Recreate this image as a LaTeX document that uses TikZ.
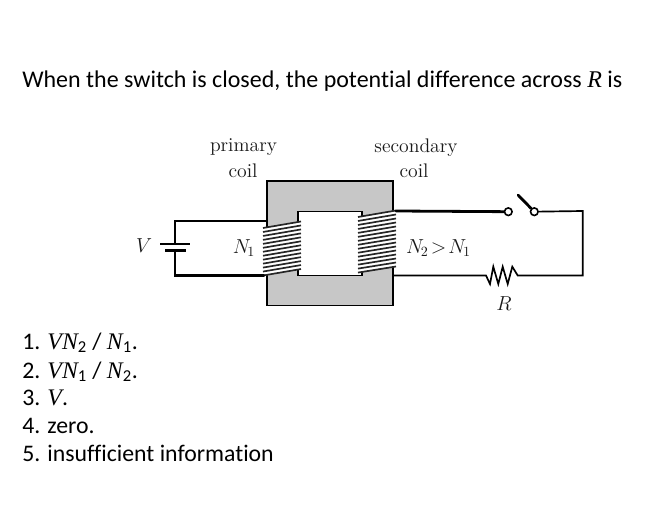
\documentclass[tikz,border=0pt]{standalone}
\usepackage{fontspec}
\setsansfont[Ligatures=CommonOff]{Carlito}
\newfontfamily\varfont{Liberation Serif}
\newcommand{\varit}[1]{{\varfont\itshape #1}}
\usetikzlibrary{positioning}

\begin{document}
\begin{tikzpicture} [x=0.025cm,y=-0.025cm,{wire/.style={color=black,line width=0.7mm,line cap=round,line join=miter}},{thinwire/.style={color=black,line width=0.42mm,line join=miter}},{terminal/.style={circle,draw=black,fill=white,line width=0.4mm,inner sep=0pt,minimum size=1.9mm}},{label/.style={font=\fontsize{14}{14}\selectfont,color=black!90,inner sep=0pt}},{line/.style={font=\sffamily\fontsize{16.9}{16.9}\selectfont,anchor=base west,inner sep=0pt}},{windings/.style={color=black!85,line width=0.42mm}}]
		\useasboundingbox (0,0) rectangle (653,512);
		%%question
		\node at (22,88) [line,font=\sffamily\fontsize{17.05}{17.05}\selectfont] (question) {When the switch is closed, the potential difference across \varit{R} is};
		%%core
		\draw [thinwire,fill=black!22] (267,181) rectangle (393,305.5);
		\draw [thinwire,fill=white] (298,211.5) rectangle (362,275.5);
		%%primary coil
		\fill [white] (263,228) -- (301,221.5) -- (301,269) -- (263,275.5) -- cycle;
		\foreach \i in {0,...,12} {
			\draw [windings] (263,228+\i*3.96) -- (301,221.5+\i*3.96);
		}
		%%secondary coil
		\fill [white] (358,217) -- (396,210.5) -- (396,266.5) -- (358,272.5) -- cycle;
		\foreach \i in {0,...,14} {
			\draw [windings] (358,217+\i*3.97) -- (396,210.5+\i*4);
		}
		%%battery
		\coordinate (b1) at (175,243.7);
		\coordinate (b2) at (175,250.5);
		\coordinate (p1) at (175,220.7);
		\coordinate (p2) at (175,275.5);
		\coordinate (p3) at (267,220.7);
		\coordinate (p4) at (264,275.5);
		\draw [thinwire] (160,243.7) -- (190,243.7);
		\draw [color=black,line width=0.8mm] (165,250.5) -- (186,250.5);
		\draw [thinwire] (b1) -- (p1) -- (p3);
		\draw [wire] (b2) -- (p2) -- (p4);
		%%secondary circuit
		\node at (508.3,211.7) [terminal] (t1) {};
		\node at (534.3,211.7) [terminal] (t2) {};
		\coordinate (s1) at (396,211);
		\coordinate (s2) at (582.7,211);
		\coordinate (s3) at (582.7,275.5);
		\coordinate (s4) at (393,275.5);
		\coordinate (sw) at (518,195);
		\draw [wire] (s1) -- (t1);
		\draw [wire] (t2) -- (sw);
		\draw [thinwire] (t2) -- (s2) -- (s3) -- (517.7,275.5) -- (512.3,266.7) -- (507.7,284) -- (502.7,266.7) -- (498.3,284) -- (493.3,266.7) -- (490,284) -- (486,275.5) -- (s4);
		%%labels
		\node at (243.5,147.5) [label] (primary) {primary};
		\node at (243,171) [label] (coil1) {coil};
		\node at (416,147.5) [label] (secondary) {secondary};
		\node at (414,171) [label] (coil2) {coil};
		\node at (144,246) [label] (volt) {$V$};
		\node at (244,248) [label] (n1) {$N\!_1$};
		\node at (438.5,248) [label] (n2) {$N\!_2\!>\!N\!_1$};
		\node at (504,304) [label] (res) {$R$};
		%%answers
		\node at (22,349) [line] (a1) {1. \varit{VN}\textsubscript{2} / \varit{N}\textsubscript{1}.};
		\node at (22,378) [line] (a2) {2. \varit{VN}\textsubscript{1} / \varit{N}\textsubscript{2}.};
		\node at (22,405) [line] (a3) {3. \varit{V}.};
		\node at (22,433) [line] (a4) {4. zero.};
		\node at (22,461) [line] (a5) {5. insufficient information};
	\end{tikzpicture}
\end{document}
